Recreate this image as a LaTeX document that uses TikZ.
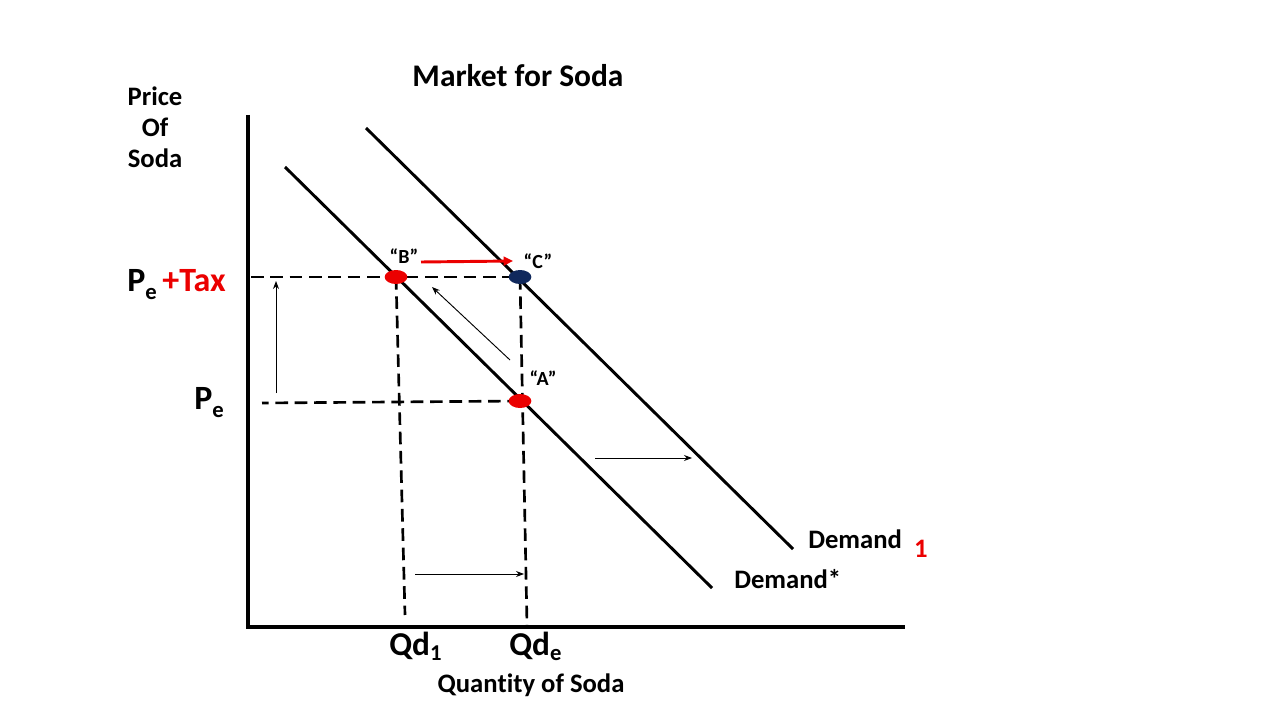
\documentclass[tikz,border=0pt]{standalone}
\usepackage{fontspec}
\setmainfont{Carlito}[Ligatures={TeX,NoCommon}]
\usetikzlibrary{arrows.meta,shapes.geometric}
\definecolor{pred}{RGB}{235,0,0}
\definecolor{navy}{RGB}{16,40,92}
\begin{document}
\begin{tikzpicture}[x=0.75pt,y=-0.75pt,
  axis/.style={line width=2.4pt},
  dline/.style={line width=2.2pt},
  guide/.style={line width=2pt,dash pattern=on 9.5pt off 5pt},
  thin/.style={line width=0.7pt,-{Stealth[length=6pt,width=4.5pt]}},
  redarrow/.style={line width=2.2pt,pred,-{Triangle[length=7pt,width=6.5pt]}},
  dot/.style={ellipse,minimum width=17pt,minimum height=10.5pt,inner sep=0pt},
  txt/.style={inner sep=0pt,font=\bfseries},
  ptlbl/.style={inner sep=0pt,font=\bfseries\fontsize{15}{15}\selectfont},
]
\useasboundingbox (0,0) rectangle (1280,720);
% axes
\coordinate (ytop) at (248,115);
\coordinate (O) at (248,627);
\coordinate (xend) at (905,627);
\draw[axis] (ytop) -- (O) -- (xend);
% demand curves
\coordinate (d0s) at (285,167);
\coordinate (d0e) at (712,588);
\coordinate (d1s) at (366,128);
\coordinate (d1e) at (793,549);
\draw[dline] (d0s) -- (d0e);
\draw[dline] (d1s) -- (d1e);
% guide points
\coordinate (Bp) at (396,277);
\coordinate (Cp) at (520,277);
\coordinate (Ap) at (520,401);
\coordinate (ptax) at (251,277);
\coordinate (pe) at (262,403);
\coordinate (q1) at (405,615);
\coordinate (qe) at (527,625);
\draw[guide] (ptax) -- (Cp);
\draw[guide] (Ap) -- (pe);
\draw[guide] (Bp) -- (q1);
\draw[guide] (Cp) -- (qe);
% dots
\node[dot,fill=pred] (B) at (Bp) {};
\node[dot,fill=navy] (C) at (Cp) {};
\node[dot,fill=pred] (A) at (Ap) {};
% arrows
\coordinate (rS) at (421,262);
\coordinate (rE) at (513,261);
\draw[redarrow] (rS) -- (rE);
\coordinate (aS) at (510,360);
\coordinate (aE) at (432,287);
\draw[thin] (aS) -- (aE);
\coordinate (uS) at (276,393);
\coordinate (uE) at (276,281);
\draw[thin] (uS) -- (uE);
\coordinate (sS) at (595,458);
\coordinate (sE) at (692,458);
\draw[thin] (sS) -- (sE);
\coordinate (qS) at (415,574);
\coordinate (qE) at (524,574);
\draw[thin] (qS) -- (qE);
% point labels
\node[ptlbl] (lB) at (404,256) {``B''};
\node[ptlbl] (lC) at (538,261) {``C''};
\node[ptlbl] (lA) at (543,378) {``A''};
% price labels
\node[txt,anchor=base west,font=\bfseries\fontsize{25.5}{25.5}\selectfont] (lPT) at (127,291)
  {P{\fontsize{17}{17}\selectfont\raisebox{-6pt}{e}}\,\textcolor{pred}{+Tax}};
\node[txt,anchor=base west,font=\bfseries\fontsize{25.5}{25.5}\selectfont] (lPe) at (194,409)
  {P{\fontsize{17}{17}\selectfont\raisebox{-6pt}{e}}};
% axis titles
\node[txt,align=center,font=\bfseries\fontsize{20}{23.3}\selectfont] (ylab) at (155,127) {Price\\Of\\Soda};
\node[txt,font=\bfseries\fontsize{23.6}{23.6}\selectfont] (title) at (518,76) {Market for Soda};
\node[txt,font=\bfseries\fontsize{20}{20}\selectfont] (xlab) at (531,685) {Quantity of Soda};
% quantity labels
\node[txt,anchor=base west,font=\bfseries\fontsize{25}{25}\selectfont] (lQ1) at (389,655)
  {Qd{\fontsize{17}{17}\selectfont\raisebox{-4pt}{1}}};
\node[txt,anchor=base west,font=\bfseries\fontsize{25}{25}\selectfont] (lQe) at (509,655)
  {Qd{\fontsize{17}{17}\selectfont\raisebox{-4pt}{e}}};
% demand labels
\node[txt,anchor=base west,font=\bfseries\fontsize{20}{20}\selectfont] (lD1) at (808,548)
  {Demand\ \ \textcolor{pred}{\raisebox{-7pt}{1}}};
\node[txt,anchor=base west,font=\bfseries\fontsize{20}{20}\selectfont] (lD0) at (734,588) {Demand*};
\end{tikzpicture}
\end{document}
